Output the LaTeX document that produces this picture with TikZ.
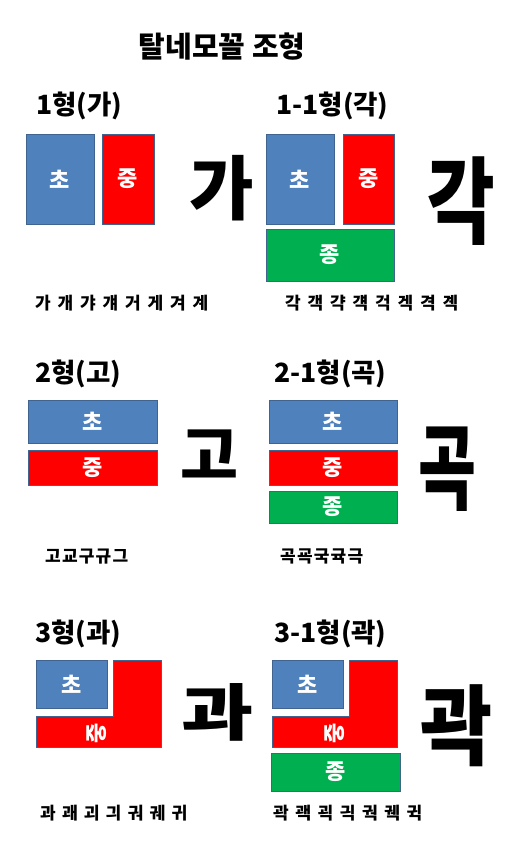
\documentclass[tikz,border=0pt]{standalone}
\usepackage{fontspec}
\setmainfont{Noto Sans CJK KR}
\definecolor{choblue}{HTML}{4F81BD}
\definecolor{jungred}{HTML}{FF0000}
\definecolor{jonggreen}{HTML}{00B050}
\definecolor{edge}{HTML}{41638F}
\begin{document}
\begin{tikzpicture}[x=1pt,y=-1pt,
  partbox/.style={draw=edge, line width=0.9pt, inner sep=0pt, text=white, font=\bfseries\fontsize{22}{22}\selectfont},
  chobox/.style={partbox, fill=choblue},
  jungbox/.style={partbox, fill=jungred},
  jongbox/.style={partbox, fill=jonggreen},
  partlabel/.style={inner sep=0pt, text=white, font=\bfseries\fontsize{22}{22}\selectfont},
  lshape/.style={draw=edge, line width=0.9pt, fill=jungred},
  titletext/.style={font=\bfseries\fontsize{29}{29}\selectfont, inner sep=0pt},
  head/.style={font=\bfseries\fontsize{26.5}{26.5}\selectfont, inner sep=0pt, anchor=west},
  big/.style={font=\bfseries\fontsize{70}{70}\selectfont, inner sep=0pt},
  rowtext/.style={font=\bfseries\fontsize{17}{17}\selectfont, inner sep=0pt, anchor=base west},
  ]
\useasboundingbox (0,0) rectangle (528,859);

\node[titletext] (title) at (222,47) {탈네모꼴 조형};

% ---------- row 1 ----------
\node[head] (h1) at (36,106) {1형(가)};
\node[head] (h11) at (276,106) {1-1형(각)};
\node[chobox, minimum width=68, minimum height=90] (c1) at (60,179) {초};
\node[jungbox, minimum width=52, minimum height=90] (j1) at (128,179) {중};
\node[chobox, minimum width=68, minimum height=90] (c2) at (300,179) {초};
\node[jungbox, minimum width=51, minimum height=90] (j2) at (368.5,179) {중};
\node[jongbox, minimum width=128, minimum height=52] (k2) at (330,255) {종};
\node[big] (b1) at (222,188) {가};
\node[big, xscale=1.05, yscale=1.35] (b11) at (461,201) {각};
\node[rowtext] (r1) at (35,309) {\makebox[173pt]{가\hfill 개\hfill 갸\hfill 걔\hfill 거\hfill 게\hfill 겨\hfill 계}};
\node[rowtext] (r11) at (285,309) {\makebox[173pt]{각\hfill 객\hfill 갹\hfill 걕\hfill 걱\hfill 겍\hfill 격\hfill 곅}};

% ---------- row 2 ----------
\node[head] (h2) at (35,373.5) {2형(고)};
\node[head] (h21) at (274,373.5) {2-1형(곡)};
\node[chobox, minimum width=129, minimum height=43] (c3) at (92.5,421.5) {초};
\node[jungbox, minimum width=129, minimum height=35] (j3) at (92.5,467.5) {중};
\node[chobox, minimum width=128, minimum height=43] (c4) at (333,421.5) {초};
\node[jungbox, minimum width=128, minimum height=35] (j4) at (333,467.5) {중};
\node[jongbox, minimum width=128, minimum height=32] (k4) at (333,507) {종};
\node[big, scale=0.9] (b2) at (209,454) {고};
\node[big, xscale=0.9, yscale=1.35] (b21) at (447,469) {곡};
\node[rowtext] (r2) at (45,562) {\makebox[83pt]{고\hfill 교\hfill 구\hfill 규\hfill 그}};
\node[rowtext] (r21) at (280,562) {\makebox[83pt]{곡\hfill 굑\hfill 국\hfill 귝\hfill 극}};

% ---------- row 3 ----------
\node[head] (h3) at (35,633.5) {3형(과)};
\node[head] (h31) at (274,633.5) {3-1형(곽)};
\node[chobox, minimum width=71, minimum height=48] (c5) at (71.5,684) {초};
\draw[lshape] (113,660) -- (161,660) -- (161,747) -- (36,747) -- (36,716) -- (113,716) -- cycle;
\node[partlabel, rotate=90] (j5) at (97,733) {중};
\node[chobox, minimum width=71, minimum height=48] (c6) at (307.5,684) {초};
\draw[lshape] (349,660) -- (397,660) -- (397,747) -- (272,747) -- (272,716) -- (349,716) -- cycle;
\node[partlabel, rotate=90] (j6) at (335,733) {중};
\node[jongbox, minimum width=129, minimum height=38] (k6) at (335.5,772) {종};
\node[big, xscale=1.12, yscale=0.88] (b3) at (218,712) {과};
\node[big, xscale=1.12, yscale=1.25] (b31) at (457,726) {곽};
\node[rowtext] (r3) at (40,819) {\makebox[147pt]{과\hfill 괘\hfill 괴\hfill 긔\hfill 궈\hfill 궤\hfill 귀}};
\node[rowtext] (r31) at (273,819) {\makebox[149pt]{곽\hfill 괙\hfill 괵\hfill 긕\hfill 궉\hfill 궥\hfill 귁}};
\end{tikzpicture}
\end{document}
